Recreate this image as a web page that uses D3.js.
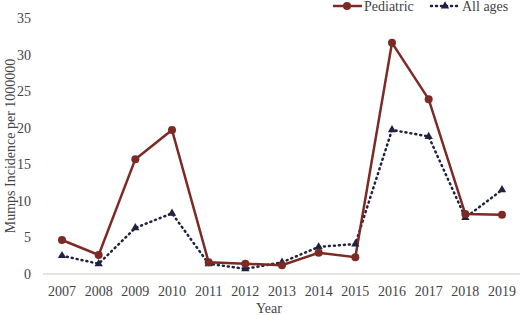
<!DOCTYPE html>
<html><head><meta charset="utf-8">
<script src="https://cdn.jsdelivr.net/npm/d3@7"></script>
<style>body{margin:0;background:#fff}svg{display:block}text{font-family:"Liberation Serif","Times New Roman",serif;fill:#444}</style>
</head><body><svg id="c" width="520" height="315"></svg>
<script>
const years = [2007,2008,2009,2010,2011,2012,2013,2014,2015,2016,2017,2018,2019];
const pediatric = [4.65,2.6,15.7,19.7,1.6,1.4,1.2,2.9,2.3,31.6,23.9,8.2,8.1];
const allAges = [2.5,1.4,6.3,8.3,1.4,0.7,1.6,3.7,4.1,19.7,18.8,7.7,11.5];
const yTicks = [0,5,10,15,20,25,30,35];

const svg = d3.select("#c");
const x = d3.scalePoint().domain(years).range([62,502]);
const y = d3.scaleLinear().domain([0,35]).range([274,18]);
const red = "#7b2a24", navy = "#1f2340";

svg.append("line").attr("x1",43).attr("x2",520).attr("y1",y(0)).attr("y2",y(0)).attr("stroke","#d0c8c4").attr("stroke-width",1);
svg.selectAll(".yt").data(yTicks).enter().append("text").attr("x",31).attr("y",d=>y(d)+5).attr("text-anchor","end").attr("font-size",14).text(d=>d);
svg.selectAll(".xt").data(years).enter().append("text").attr("x",d=>x(d)).attr("y",296).attr("text-anchor","middle").attr("font-size",14).text(d=>d);
svg.append("text").attr("x",269).attr("y",313).attr("text-anchor","middle").attr("font-size",14).text("Year");
svg.append("text").attr("transform","translate(15,146) rotate(-90)").attr("text-anchor","middle").attr("font-size",14).text("Mumps Incidence per 1000000");

const line = d3.line().x((d,i)=>x(years[i])).y(d=>y(d));
svg.append("path").datum(allAges).attr("d",line).attr("fill","none").attr("stroke",navy).attr("stroke-width",2.5).attr("stroke-dasharray","1,4").attr("stroke-linecap","round");
svg.append("path").datum(pediatric).attr("d",line).attr("fill","none").attr("stroke",red).attr("stroke-width",2.5);
const tri = d3.symbol().type(d3.symbolTriangle).size(30);
svg.selectAll(".ta").data(allAges).enter().append("path").attr("d",tri).attr("transform",(d,i)=>`translate(${x(years[i])},${y(d)})`).attr("fill",navy);
svg.selectAll(".cp").data(pediatric).enter().append("circle").attr("cx",(d,i)=>x(years[i])).attr("cy",d=>y(d)).attr("r",4).attr("fill",red);

// legend
svg.append("line").attr("x1",333).attr("x2",362).attr("y1",6).attr("y2",6).attr("stroke",red).attr("stroke-width",2.5);
svg.append("circle").attr("cx",347).attr("cy",6).attr("r",4).attr("fill",red);
svg.append("text").attr("x",364).attr("y",11).attr("font-size",14).text("Pediatric");
svg.append("line").attr("x1",431).attr("x2",460).attr("y1",6).attr("y2",6).attr("stroke",navy).attr("stroke-width",2.5).attr("stroke-dasharray","1,4").attr("stroke-linecap","round");
svg.append("path").attr("d",tri).attr("transform","translate(445,6)").attr("fill",navy);
svg.append("text").attr("x",462).attr("y",11).attr("font-size",14).text("All ages");
</script></body></html>
